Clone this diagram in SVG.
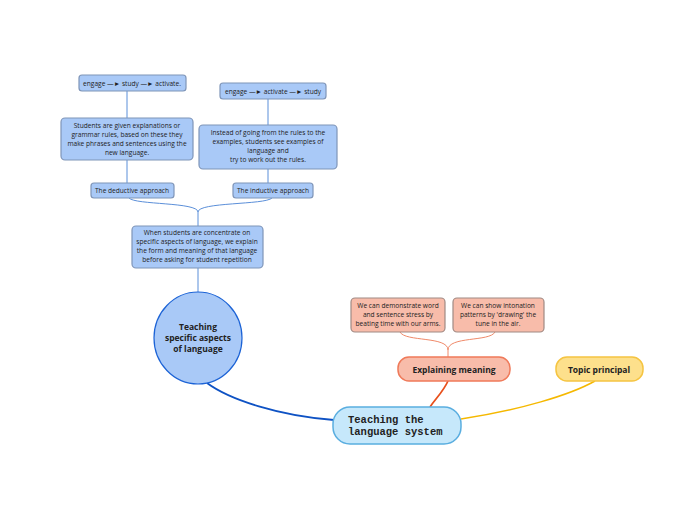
<svg xmlns="http://www.w3.org/2000/svg" width="697" height="520" viewBox="0 0 697 520">
<style>
text{font-family:"Open Sans","Noto Sans",sans-serif;fill:#222;text-anchor:middle}
.s{font-size:6.6px}
.b{fill:#a9c9f7;stroke:#7f95b8;stroke-width:1.2}
.r{fill:#f8bcaa;stroke:#a08a84;stroke-width:1.2}
.c{fill:none;stroke-width:1}
</style>
<rect width="697" height="520" fill="#fff"/>
<g id="connectors">
<path class="c" stroke="#5b8fd9" d="M127 91V118M127 160V183M268 99V125M268 169V183M129 198C135 205 198 202 198 212M272 198C265 205 198 202 198 212M198 212V226M198 268V292"/>
<path fill="none" stroke="#0e52c4" stroke-width="1.8" d="M207 383C230 400 280 416 334 420"/>
<path class="c" stroke="#f08a6a" d="M400 332C405 342 448 336 448 350M495 332C490 342 448 336 448 350V357"/>
<path fill="none" stroke="#e8501c" stroke-width="1.8" d="M448 381C443 392 436 398 430 407"/>
<path fill="none" stroke="#f5b800" stroke-width="1.5" d="M461 419C520 410 570 395 595 381"/>
</g>
<g id="n1"><rect class="b" x="79" y="75" width="107" height="16" rx="3"/><text class="s" x="132" y="86">engage —► study —► activate.</text></g>
<g id="n2"><rect class="b" x="220" y="83" width="106" height="16" rx="3"/><text class="s" x="273" y="94">engage —► activate —► study</text></g>
<g id="n3"><rect class="b" x="61" y="118" width="132" height="42" rx="4"/><text class="s" x="127" y="128">Students are given explanations or</text><text class="s" x="127" y="137">grammar rules, based on these they</text><text class="s" x="127" y="146">make phrases and sentences using the</text><text class="s" x="127" y="155">new language.</text></g>
<g id="n4"><rect class="b" x="199" y="125" width="138" height="44" rx="4"/><text class="s" x="268" y="135">Instead of going from the rules to the</text><text class="s" x="268" y="144">examples, students see examples of</text><text class="s" x="268" y="153">language and</text><text class="s" x="268" y="162">try to work out the rules.</text></g>
<g id="n5"><rect class="b" x="91" y="183" width="83" height="15" rx="3"/><text class="s" x="132" y="193">The deductive approach</text></g>
<g id="n6"><rect class="b" x="233" y="183" width="80" height="15" rx="3"/><text class="s" x="273" y="193">The inductive approach</text></g>
<g id="n7"><rect class="b" x="132" y="226" width="131" height="42" rx="4"/><text class="s" x="197" y="235">When students are concentrate on</text><text class="s" x="197" y="244">specific aspects of language, we explain</text><text class="s" x="197" y="253">the form and meaning of that language</text><text class="s" x="197" y="262">before asking for student repetition</text></g>
<g id="n8"><ellipse cx="198" cy="338" rx="44" ry="46" fill="#a9c9f7" stroke="#1c63d6" stroke-width="1.2"/><text x="198" y="330" style="font-size:8.5px;font-weight:bold">Teaching</text><text x="198" y="341" style="font-size:8.5px;font-weight:bold">specific aspects</text><text x="198" y="352" style="font-size:8.5px;font-weight:bold">of language</text></g>
<g id="n9"><rect class="r" x="351" y="298" width="94" height="34" rx="4"/><text class="s" x="398" y="308">We can demonstrate word</text><text class="s" x="398" y="317">and sentence stress by</text><text class="s" x="398" y="326">beating time with our arms.</text></g>
<g id="n10"><rect class="r" x="453" y="298" width="91" height="34" rx="4"/><text class="s" x="498" y="308">We can show intonation</text><text class="s" x="498" y="317">patterns by 'drawing' the</text><text class="s" x="498" y="326">tune in the air.</text></g>
<g id="n11"><rect x="398" y="357" width="112" height="24" rx="11" fill="#f8bcaa" stroke="#ef7a5a" stroke-width="1.5"/><text x="454" y="373" style="font-size:8.5px;font-weight:bold">Explaining meaning</text></g>
<g id="n12"><rect x="556" y="357" width="87" height="24" rx="11" fill="#fde08c" stroke="#f5c441" stroke-width="1.5"/><text x="599" y="373" style="font-size:8.5px;font-weight:bold">Topic principal</text></g>
<g id="n13"><rect x="333" y="407" width="128" height="37" rx="17" fill="#c6e8fb" stroke="#5aaee0" stroke-width="1.5"/><text x="348" y="423" style="font-family:'Liberation Mono',monospace;font-size:10.5px;font-weight:bold;text-anchor:start">Teaching the</text><text x="348" y="435" style="font-family:'Liberation Mono',monospace;font-size:10.5px;font-weight:bold;text-anchor:start">language system</text></g>
</svg>
